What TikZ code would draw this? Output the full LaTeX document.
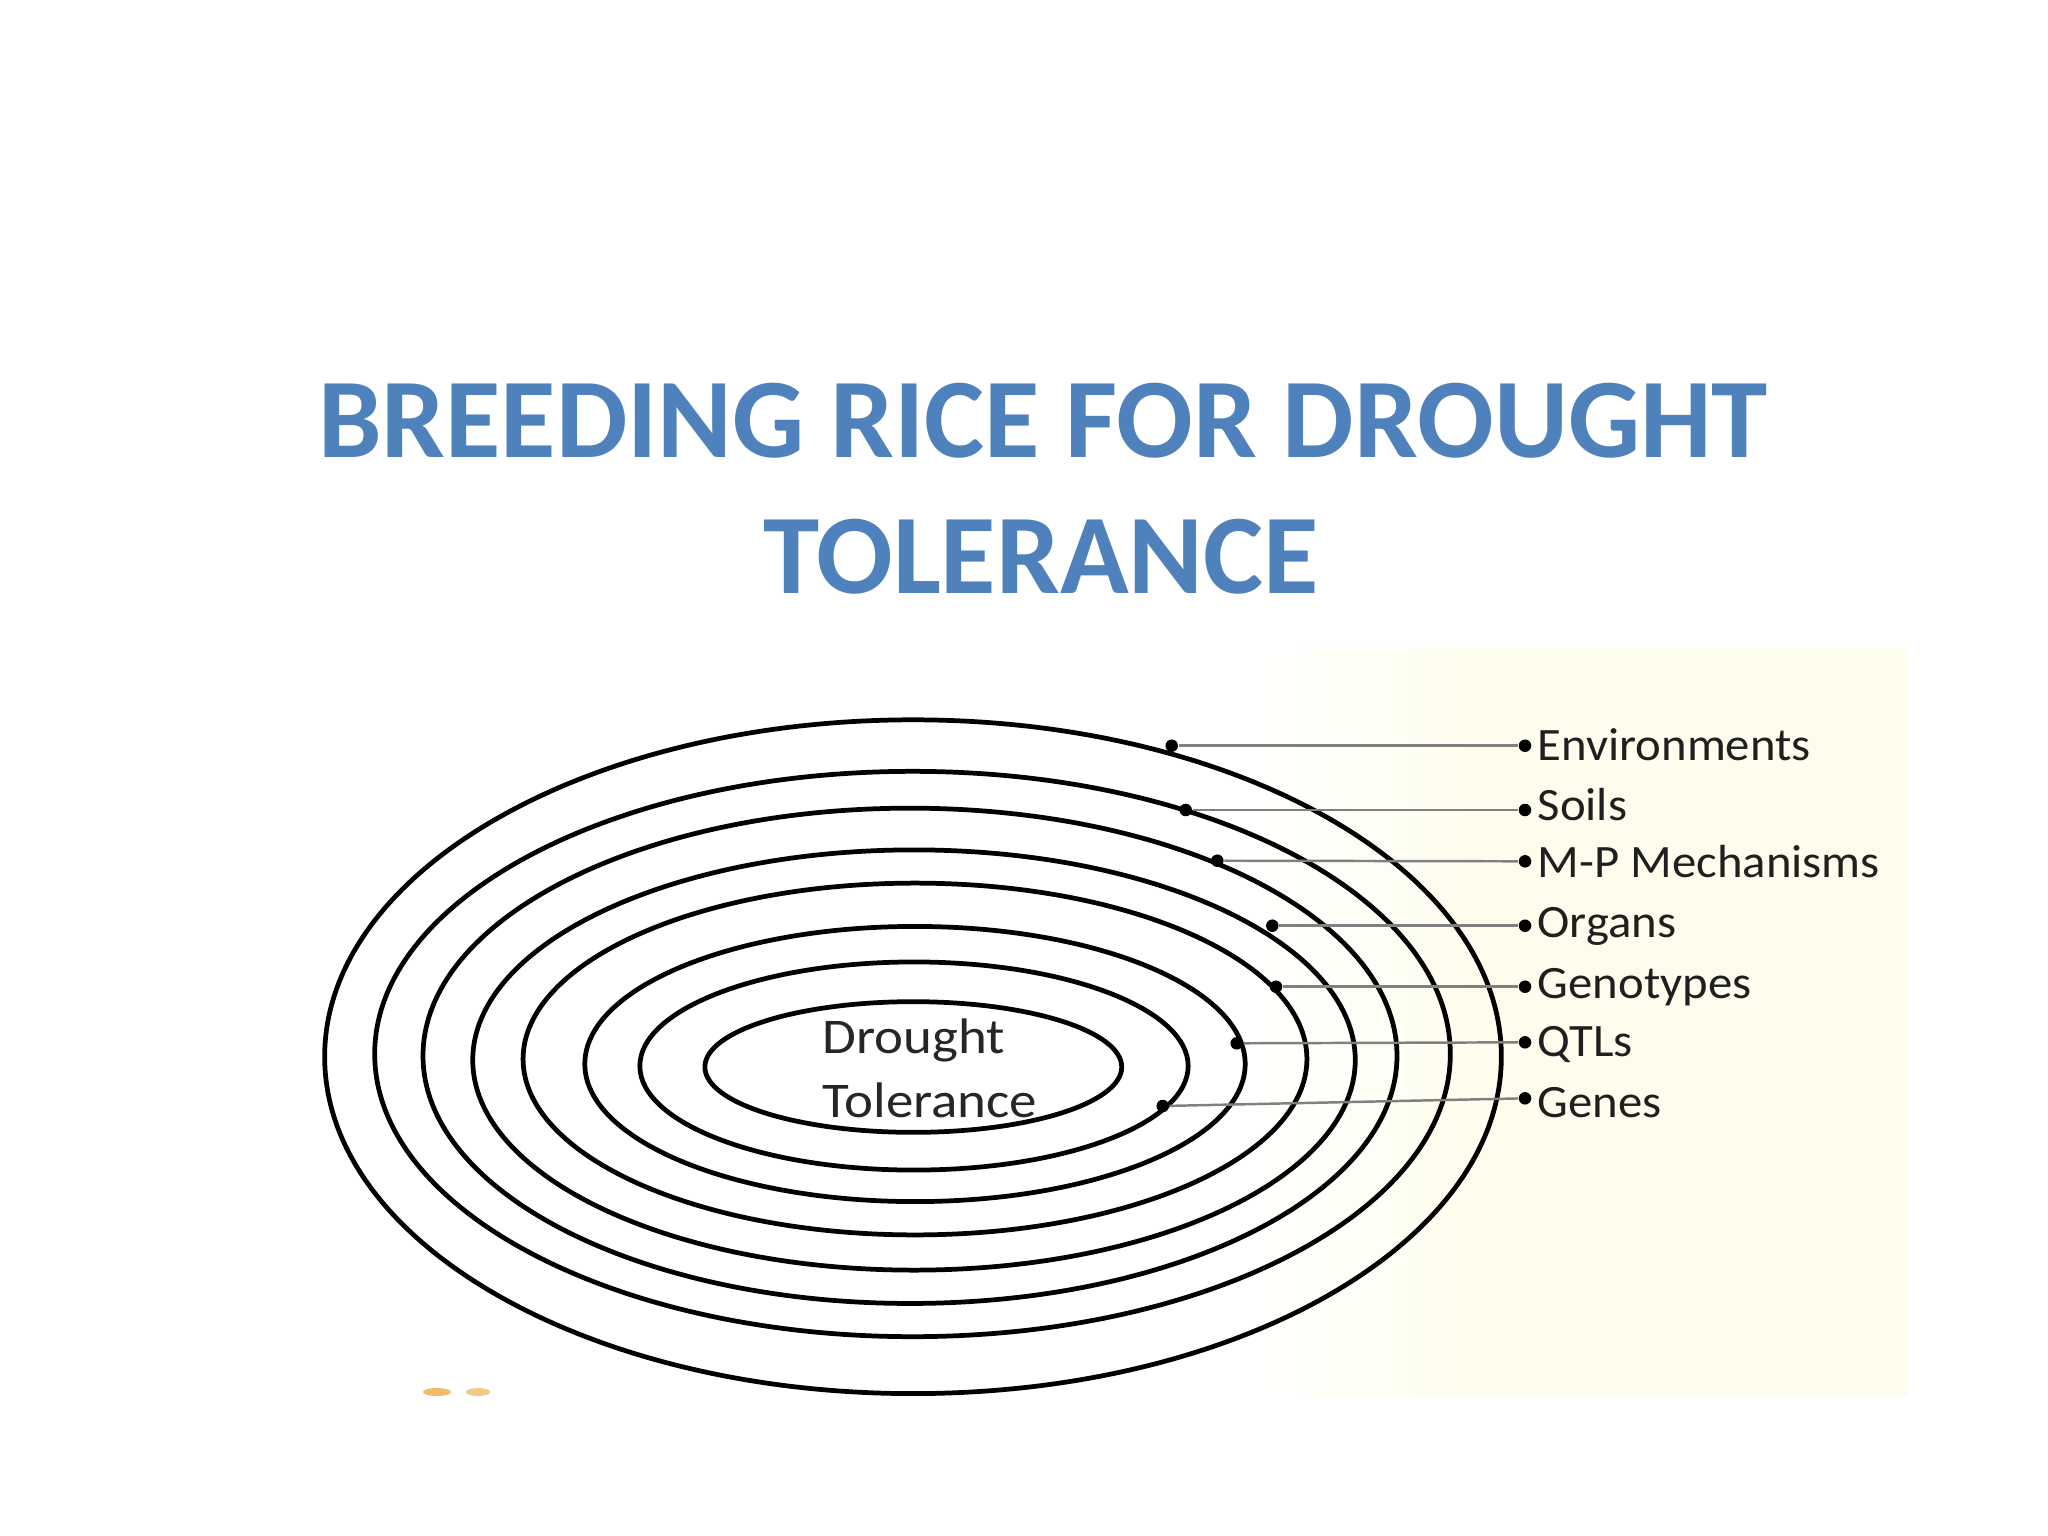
\documentclass[tikz,border=0pt]{standalone}
\usepackage{fontspec}
\setmainfont{Carlito}
\newfontfamily\lblfont[FakeStretch=1.05]{Carlito}
\newfontfamily\ctrfont[FakeStretch=1.1]{Carlito}
\definecolor{titleblue}{RGB}{79,129,189}
\definecolor{cream}{RGB}{254,253,237}
\definecolor{blob}{RGB}{238,165,55}
\begin{document}
\begin{tikzpicture}[x=0.01cm,y=-0.01cm,
  ring/.style={draw=black,line width=1.35pt},
  dotnode/.style={circle,fill=black,inner sep=0pt,minimum size=0.125cm},
  lead/.style={draw=black!50,line width=0.7pt},
  lbl/.style={anchor=base west,inner sep=0pt,text=black!88,font=\lblfont\fontsize{13.2}{15}\selectfont},
  ttl/.style={anchor=base,inner sep=0pt,text=titleblue,font=\bfseries\fontsize{32.25}{39}\selectfont},
  ctr/.style={anchor=base west,inner sep=0pt,text=black!85,font=\ctrfont\fontsize{14.2}{17}\selectfont}]
\useasboundingbox (0,0) rectangle (2048,1536);
\fill[white] (0,0) rectangle (2048,1536);
% pasted picture background
\shade[left color=white,right color=cream] (1240,647) rectangle (1470,1397);
\fill[cream] (1470,647) rectangle (1908,1397);
% title
\node[ttl] (t1) at (1043,457) {BREEDING RICE FOR DROUGHT};
\node[ttl] (t2) at (1041,593) {TOLERANCE};
% rings
\draw[ring] (913,1056.7) ellipse [x radius=5.88cm, y radius=3.367cm];
\draw[ring] (912.5,1054) ellipse [x radius=5.375cm, y radius=2.825cm];
\draw[ring] (910,1055.8) ellipse [x radius=4.867cm, y radius=2.475cm];
\draw[ring] (914,1060) ellipse [x radius=4.41cm, y radius=2.10cm];
\draw[ring] (915,1059) ellipse [x radius=3.917cm, y radius=1.758cm];
\draw[ring] (915,1064) ellipse [x radius=3.30cm, y radius=1.375cm];
\draw[ring] (914,1066) ellipse [x radius=2.74cm, y radius=1.04cm];
\draw[ring] (913.3,1067) ellipse [x radius=2.083cm, y radius=0.653cm];
% centre text
\node[ctr] (dt1) at (822,1053) {Drought};
\node[ctr] (dt2) at (822,1117) {Tolerance};
% dots on rings
\node[dotnode] (d1) at (1171.7,745.7) {};
\node[dotnode] (d2) at (1185.7,810) {};
\node[dotnode] (d3) at (1217.3,860.7) {};
\node[dotnode] (d4) at (1272.3,925.7) {};
\node[dotnode] (d5) at (1276,986.7) {};
\node[dotnode] (d6) at (1236.7,1043.3) {};
\node[dotnode] (d7) at (1162.7,1106) {};
% bullet dots
\node[dotnode] (r1) at (1525,745.7) {};
\node[dotnode] (r2) at (1525,810) {};
\node[dotnode] (r3) at (1525,861.3) {};
\node[dotnode] (r4) at (1525,925.7) {};
\node[dotnode] (r5) at (1525,986.7) {};
\node[dotnode] (r6) at (1525,1042.3) {};
\node[dotnode] (r7) at (1525,1098.3) {};
% leader lines
\draw[lead] (d1) -- (r1);
\draw[lead] (d2) -- (r2);
\draw[lead] (d3) -- (r3);
\draw[lead] (d4) -- (r4);
\draw[lead] (d5) -- (r5);
\draw[lead] (d6) -- (r6);
\draw[lead] (d7) -- (r7);
% labels
\node[lbl] (l1) at (1537,760) {Environments};
\node[lbl] (l2) at (1537,820) {Soils};
\node[lbl] (l3) at (1537,877) {M-P Mechanisms};
\node[lbl] (l4) at (1537,937) {Organs};
\node[lbl] (l5) at (1537,998) {Genotypes};
\node[lbl] (l6) at (1537,1056) {QTLs};
\node[lbl] (l7) at (1537,1117) {Genes};
% small orange smudges at bottom left
\fill[blob,opacity=0.75] (437,1392) ellipse [x radius=0.14cm, y radius=0.04cm];
\fill[blob,opacity=0.6] (478,1392) ellipse [x radius=0.12cm, y radius=0.04cm];
\end{tikzpicture}
\end{document}
